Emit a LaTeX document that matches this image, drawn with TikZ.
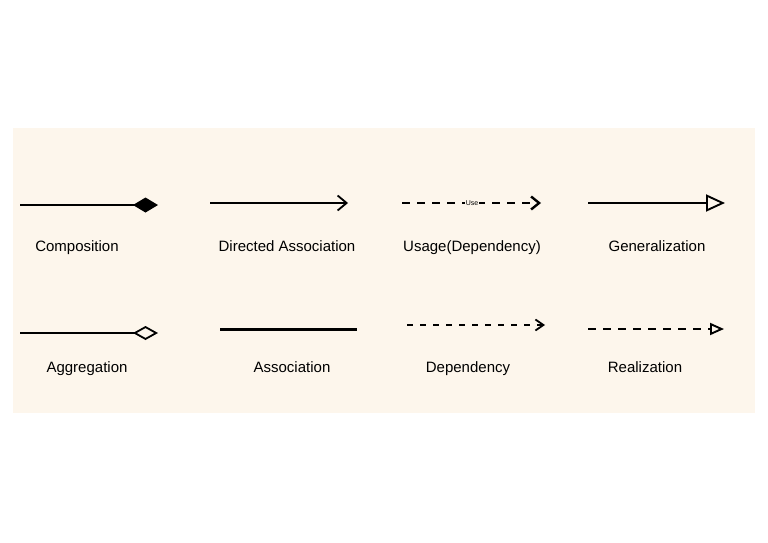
\documentclass[tikz,border=0pt]{standalone}
\usepackage{fontspec}
\setmainfont{Liberation Sans}
\usepackage{xcolor}
\usetikzlibrary{arrows.meta,positioning}
\definecolor{panel}{RGB}{253,246,236}

\begin{document}
\begin{tikzpicture}[
    x=1pt, y=-1pt,
    lbl/.style={font=\fontsize{15}{18}\selectfont, inner sep=0pt, anchor=base},
    comp/.style={-{Diamond[length=25pt,width=15pt]}, line width=2.8pt},
    aggr/.style={-{Diamond[open,length=25pt,width=14pt,line width=1.8pt]}, line width=1.5pt},
    dirassoc/.style={-{Straight Barb[length=9pt,width=15pt,line width=1.8pt]}, line width=2pt},
    assoc/.style={line width=3pt},
    usage/.style={dash pattern=on 8pt off 7pt, -{Straight Barb[length=8pt,width=13pt,line width=2.4pt]}, line width=2.6pt},
    dep/.style={dash pattern=on 5.5pt off 7.5pt, -{Straight Barb[length=8pt,width=11pt,line width=1.8pt]}, line width=1.8pt},
    gen/.style={-{Triangle[open,length=19pt,width=17pt,line width=1.9pt]}, line width=1.9pt},
    real/.style={dash pattern=on 8pt off 7pt, -{Triangle[open,length=14pt,width=12pt,line width=1.9pt]}, line width=2.4pt},
  ]
  \useasboundingbox (0,0) rectangle (768,543);
  \fill[panel] (13,128) rectangle (755,413);

  % first row
  \coordinate (compA) at (20,205);
  \coordinate (compB) at (158,205);
  \coordinate (dassA) at (210,203);
  \coordinate (dassB) at (348,203);
  \coordinate (useA)  at (402,203);
  \coordinate (useB)  at (541,203);
  \coordinate (genA)  at (588,203);
  \coordinate (genB)  at (725,203);

  \draw[comp]     (compA) -- (compB);
  \draw[dirassoc] (dassA) -- (dassB);
  \draw[usage]    (useA) -- (useB);
  \draw[gen]      (genA) -- (genB);
  \node[fill=panel, inner sep=0.5pt, font=\fontsize{7}{8}\selectfont] (usetag) at (472,203) {Use};

  \node[lbl] (composition) at (77,251.5)  {Composition};
  \node[lbl] (directed)    at (287,251.5) {Directed Association};
  \node[lbl] (usagedep)    at (472,251.5) {Usage(Dependency)};
  \node[lbl] (general)     at (657,251.5) {Generalization};

  % second row
  \coordinate (aggA)  at (20,333);
  \coordinate (aggB)  at (158,333);
  \coordinate (assA)  at (220,329);
  \coordinate (assB)  at (357,329);
  \coordinate (depA)  at (407,325);
  \coordinate (depB)  at (545,325);
  \coordinate (realA) at (588,329);
  \coordinate (realB) at (724,329);

  \draw[aggr]  (aggA) -- (aggB);
  \draw[assoc] (assA) -- (assB);
  \draw[dep]   (depA) -- (depB);
  \draw[real]  (realA) -- (realB);

  \node[lbl] (aggregation) at (87,372)  {Aggregation};
  \node[lbl] (association) at (292,372) {Association};
  \node[lbl] (dependency)  at (468,372) {Dependency};
  \node[lbl] (realization) at (645,372) {Realization};
\end{tikzpicture}
\end{document}
